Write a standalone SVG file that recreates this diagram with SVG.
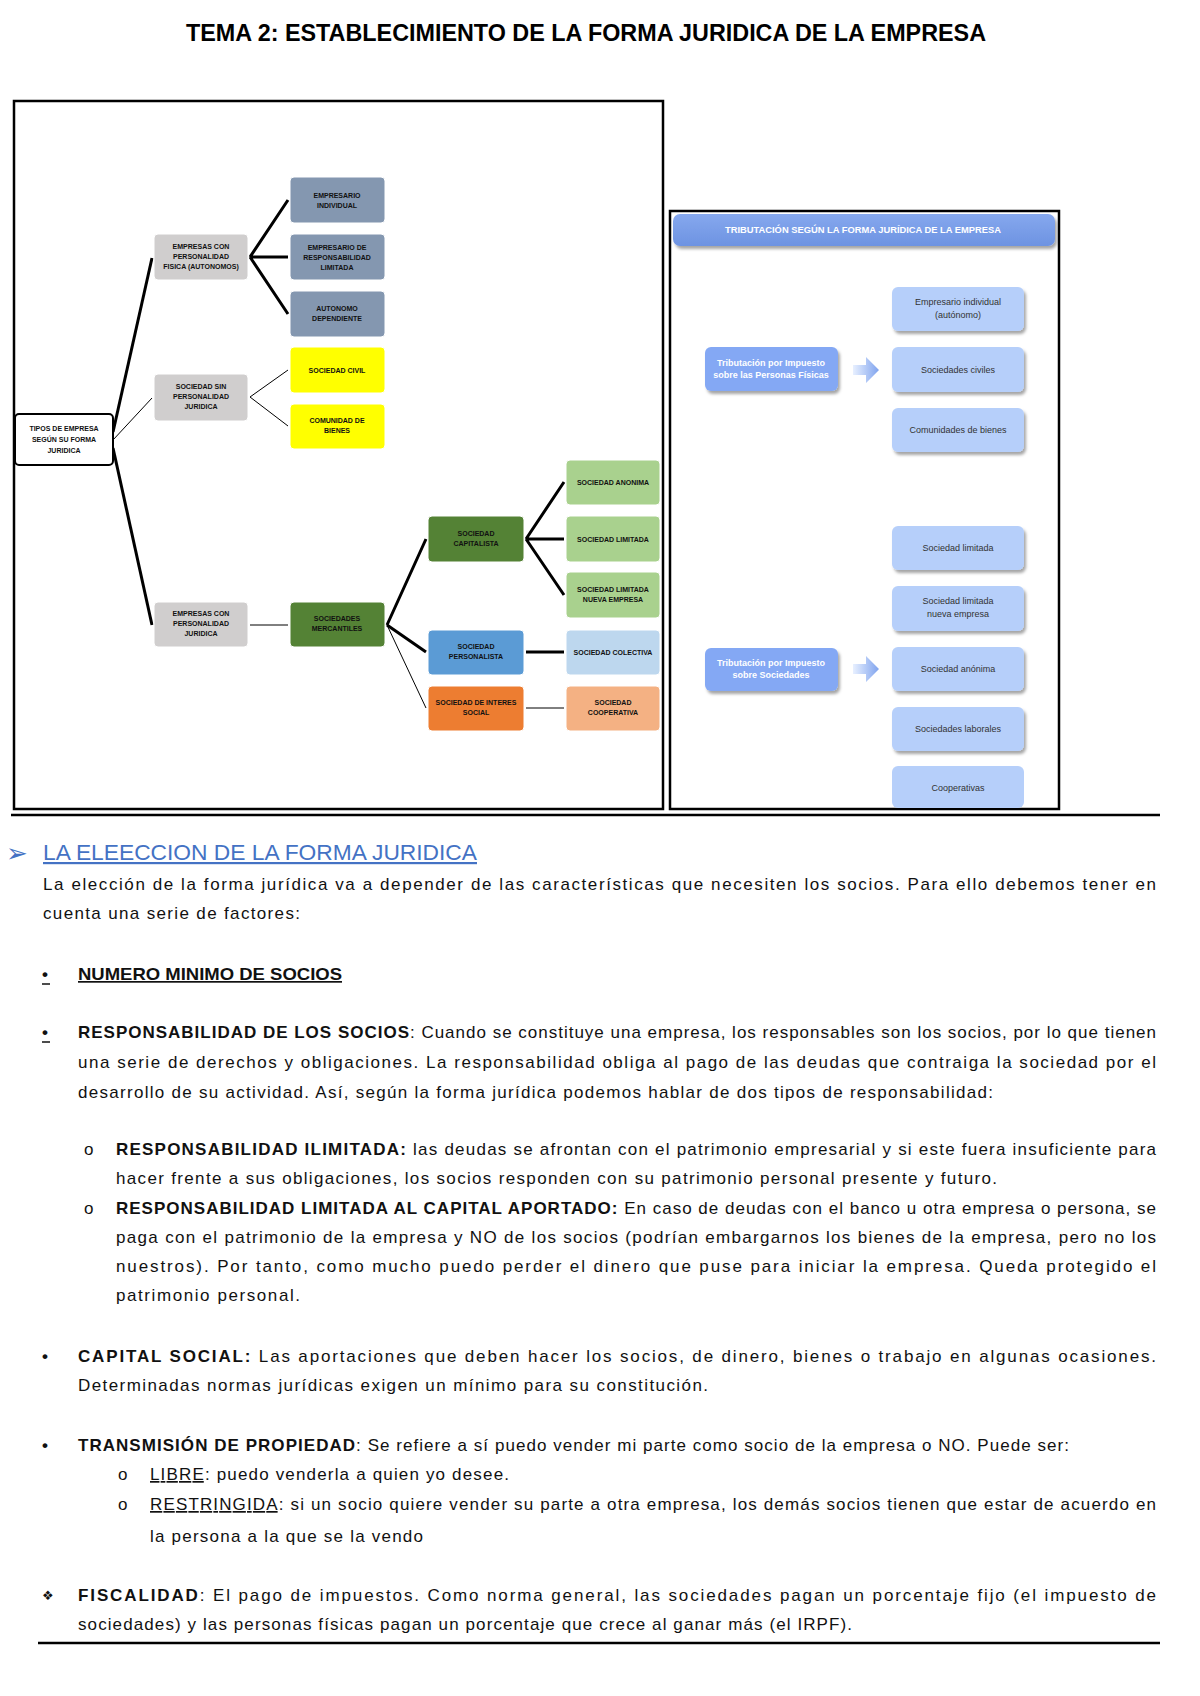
<svg xmlns="http://www.w3.org/2000/svg" width="1200" height="1696" viewBox="0 0 1200 1696">
<style>
.t{font-family:"Liberation Sans",Arial,sans-serif}
.bx{font-family:"Liberation Sans",Arial,sans-serif;font-size:7px;font-weight:bold;fill:#111;text-anchor:middle}
.gray{fill:#d0cece;stroke:#fff;stroke-width:1}
.slate{fill:#8497b0;stroke:#fff;stroke-width:1}
.yel{fill:#ffff00;stroke:#fff;stroke-width:1}
.dg{fill:#548235;stroke:#fff;stroke-width:1}
.lg{fill:#a9d18e;stroke:#fff;stroke-width:1}
.bl{fill:#5b9bd5;stroke:#fff;stroke-width:1}
.lb{fill:#bdd7ee;stroke:#fff;stroke-width:1}
.or{fill:#ed7d31;stroke:#fff;stroke-width:1}
.lo{fill:#f4b183;stroke:#fff;stroke-width:1}
.thick{stroke:#000;stroke-width:3;fill:none}
.thin{stroke:#000;stroke-width:1;fill:none}
.tb{fill:#b6cffa}
.tbt{font-family:"Liberation Sans",Arial,sans-serif;font-size:9px;fill:#333;text-anchor:middle}
.tl{fill:#84a8f4}
.tlt{font-family:"Liberation Sans",Arial,sans-serif;font-size:9px;font-weight:bold;fill:#fff;text-anchor:middle}
.body{font-family:"Liberation Sans",Arial,sans-serif;font-size:17px;fill:#111}
.b{font-weight:bold}
.u{text-decoration:underline}
</style>
<defs>
<filter id="sh" x="-10%" y="-10%" width="130%" height="140%"><feDropShadow dx="2" dy="3" stdDeviation="1.5" flood-color="#000" flood-opacity="0.35"/></filter>
<linearGradient id="ag" x1="0" y1="0" x2="1" y2="0"><stop offset="0" stop-color="#e8f0ff"/><stop offset="1" stop-color="#7fa3ee"/></linearGradient>
<linearGradient id="hg" x1="0" y1="0" x2="0" y2="1"><stop offset="0" stop-color="#86a8ee"/><stop offset="1" stop-color="#6d93e2"/></linearGradient>
</defs>
<rect width="1200" height="1696" fill="#fff"/>

<text class="t" x="586" y="41" font-size="24" font-weight="bold" text-anchor="middle" textLength="800" lengthAdjust="spacingAndGlyphs" fill="#000">TEMA 2: ESTABLECIMIENTO DE LA FORMA JURIDICA DE LA EMPRESA</text>

<!-- frames -->
<rect x="14" y="101" width="649" height="708" fill="none" stroke="#000" stroke-width="2.5"/>
<rect x="670" y="211" width="389" height="598" fill="none" stroke="#000" stroke-width="2.5"/>
<line x1="11" y1="815" x2="1160" y2="815" stroke="#000" stroke-width="2.5"/>

<!-- left diagram connectors -->
<g id="connectors">
<path class="thick" d="M113 432 L152 258"/>
<path class="thin" d="M113 440 L152 398"/>
<path class="thick" d="M113 448 L152 625"/>
<path class="thick" d="M250 257 L288 200 M250 257 L288 257 M250 257 L288 314"/>
<path class="thin" d="M250 397 L288 370 M250 397 L288 426"/>
<path class="thin" d="M250 625 L288 625" stroke-width="1.5"/>
<path class="thick" d="M387 625 L426 539 M387 625 L426 652"/>
<path class="thin" d="M387 625 L426 708"/>
<path class="thick" d="M526 539 L564 482 M526 539 L564 539 M526 539 L564 595"/>
<path class="thick" d="M526 652 L564 652"/>
<path class="thin" d="M526 708 L564 708" stroke-width="1.5"/>
</g>

<!-- left diagram nodes -->
<g id="n-root"><rect x="15" y="414" width="98" height="51" rx="4" fill="#fff" stroke="#000" stroke-width="2"/>
<text class="bx" x="64" y="431">TIPOS DE EMPRESA</text><text class="bx" x="64" y="442">SEGÚN SU FORMA</text><text class="bx" x="64" y="453">JURIDICA</text></g>

<g id="n-fisica"><rect class="gray" x="154" y="234" width="94" height="46" rx="4"/>
<text class="bx" x="201" y="249">EMPRESAS CON</text><text class="bx" x="201" y="259">PERSONALIDAD</text><text class="bx" x="201" y="269">FISICA (AUTONOMOS)</text></g>

<g id="n-sin"><rect class="gray" x="154" y="374" width="94" height="47" rx="4"/>
<text class="bx" x="201" y="389">SOCIEDAD SIN</text><text class="bx" x="201" y="399">PERSONALIDAD</text><text class="bx" x="201" y="409">JURIDICA</text></g>

<g id="n-juridica"><rect class="gray" x="154" y="602" width="94" height="45" rx="4"/>
<text class="bx" x="201" y="616">EMPRESAS CON</text><text class="bx" x="201" y="626">PERSONALIDAD</text><text class="bx" x="201" y="636">JURIDICA</text></g>

<g id="n-individual"><rect class="slate" x="290" y="177" width="95" height="46" rx="4"/>
<text class="bx" x="337" y="198">EMPRESARIO</text><text class="bx" x="337" y="208">INDIVIDUAL</text></g>

<g id="n-resp"><rect class="slate" x="290" y="234" width="95" height="46" rx="4"/>
<text class="bx" x="337" y="250">EMPRESARIO DE</text><text class="bx" x="337" y="260">RESPONSABILIDAD</text><text class="bx" x="337" y="270">LIMITADA</text></g>

<g id="n-autonomo"><rect class="slate" x="290" y="291" width="95" height="46" rx="4"/>
<text class="bx" x="337" y="311">AUTONOMO</text><text class="bx" x="337" y="321">DEPENDIENTE</text></g>

<g id="n-civil"><rect class="yel" x="290" y="347" width="95" height="46" rx="4"/>
<text class="bx" x="337" y="373">SOCIEDAD CIVIL</text></g>

<g id="n-comunidad"><rect class="yel" x="290" y="404" width="95" height="45" rx="4"/>
<text class="bx" x="337" y="423">COMUNIDAD DE</text><text class="bx" x="337" y="433">BIENES</text></g>

<g id="n-mercantiles"><rect class="dg" x="290" y="602" width="95" height="45" rx="4"/>
<text class="bx" x="337" y="621">SOCIEDADES</text><text class="bx" x="337" y="631">MERCANTILES</text></g>

<g id="n-capitalista"><rect class="dg" x="428" y="516" width="96" height="46" rx="4"/>
<text class="bx" x="476" y="536">SOCIEDAD</text><text class="bx" x="476" y="546">CAPITALISTA</text></g>

<g id="n-personalista"><rect class="bl" x="428" y="630" width="96" height="45" rx="4"/>
<text class="bx" x="476" y="649">SOCIEDAD</text><text class="bx" x="476" y="659">PERSONALISTA</text></g>

<g id="n-interes"><rect class="or" x="428" y="686" width="96" height="45" rx="4"/>
<text class="bx" x="476" y="705">SOCIEDAD DE INTERES</text><text class="bx" x="476" y="715">SOCIAL</text></g>

<g id="n-anonima"><rect class="lg" x="566" y="460" width="94" height="45" rx="4"/>
<text class="bx" x="613" y="485">SOCIEDAD ANONIMA</text></g>

<g id="n-limitada"><rect class="lg" x="566" y="516" width="94" height="46" rx="4"/>
<text class="bx" x="613" y="542">SOCIEDAD LIMITADA</text></g>

<g id="n-nueva"><rect class="lg" x="566" y="572" width="94" height="46" rx="4"/>
<text class="bx" x="613" y="592">SOCIEDAD LIMITADA</text><text class="bx" x="613" y="602">NUEVA EMPRESA</text></g>

<g id="n-colectiva"><rect class="lb" x="566" y="630" width="94" height="45" rx="4"/>
<text class="bx" x="613" y="655">SOCIEDAD COLECTIVA</text></g>

<g id="n-cooperativa"><rect class="lo" x="566" y="686" width="94" height="45" rx="4"/>
<text class="bx" x="613" y="705">SOCIEDAD</text><text class="bx" x="613" y="715">COOPERATIVA</text></g>

<!-- right diagram -->
<g id="r-header"><rect x="673" y="214" width="382" height="32" rx="7" fill="url(#hg)" filter="url(#sh)"/>
<text class="t" x="863" y="233" font-size="8.5" font-weight="bold" fill="#fff" text-anchor="middle" textLength="276" lengthAdjust="spacingAndGlyphs">TRIBUTACIÓN SEGÚN LA FORMA JURÍDICA DE LA EMPRESA</text></g>

<g id="r-irpf"><rect class="tl" x="705" y="347" width="133" height="44" rx="6" filter="url(#sh)"/>
<text class="tlt" x="771" y="366">Tributación por Impuesto</text><text class="tlt" x="771" y="378">sobre las Personas Físicas</text></g>
<g id="r-arrow1"><polygon points="853,365 866,365 866,357 879,370 866,383 866,375 853,375" fill="url(#ag)"/></g>

<g id="r-is"><rect class="tl" x="705" y="648" width="133" height="43" rx="6" filter="url(#sh)"/>
<text class="tlt" x="771" y="666">Tributación por Impuesto</text><text class="tlt" x="771" y="678">sobre Sociedades</text></g>
<g id="r-arrow2"><polygon points="853,664 866,664 866,656 879,669 866,682 866,674 853,674" fill="url(#ag)"/></g>

<g id="r-empresario"><rect class="tb" x="892" y="287" width="132" height="44" rx="6" filter="url(#sh)"/>
<text class="tbt" x="958" y="305">Empresario individual</text><text class="tbt" x="958" y="318">(autónomo)</text></g>
<g id="r-civiles"><rect class="tb" x="892" y="347" width="132" height="45" rx="6" filter="url(#sh)"/>
<text class="tbt" x="958" y="373">Sociedades civiles</text></g>
<g id="r-comunidades"><rect class="tb" x="892" y="408" width="132" height="44" rx="6" filter="url(#sh)"/>
<text class="tbt" x="958" y="433">Comunidades de bienes</text></g>
<g id="r-limitada"><rect class="tb" x="892" y="526" width="132" height="44" rx="6" filter="url(#sh)"/>
<text class="tbt" x="958" y="551">Sociedad limitada</text></g>
<g id="r-nueva"><rect class="tb" x="892" y="586" width="132" height="45" rx="6" filter="url(#sh)"/>
<text class="tbt" x="958" y="604">Sociedad limitada</text><text class="tbt" x="958" y="617">nueva empresa</text></g>
<g id="r-anonima"><rect class="tb" x="892" y="647" width="132" height="44" rx="6" filter="url(#sh)"/>
<text class="tbt" x="958" y="672">Sociedad anónima</text></g>
<g id="r-laborales"><rect class="tb" x="892" y="707" width="132" height="44" rx="6" filter="url(#sh)"/>
<text class="tbt" x="958" y="732">Sociedades laborales</text></g>
<g id="r-cooperativas"><rect class="tb" x="892" y="766" width="132" height="42" rx="6"/>
<text class="tbt" x="958" y="791">Cooperativas</text></g>

<!-- text section -->
<text x="6" y="862" font-family="DejaVu Sans,sans-serif" font-size="26" fill="#4472c4">➢</text>
<text class="t u" x="43" y="860" font-size="22" fill="#4472c4" textLength="434" lengthAdjust="spacingAndGlyphs">LA ELEECCION DE LA FORMA JURIDICA</text>

<text class="body" x="43" y="890" textLength="1113" lengthAdjust="spacing">La elección de la forma jurídica va a depender de las características que necesiten los socios. Para ello debemos tener en</text>
<text class="body" x="43" y="919" textLength="257" lengthAdjust="spacing">cuenta una serie de factores:</text>

<text class="body b" x="42" y="980">•</text><line x1="42" y1="984" x2="50" y2="984" stroke="#111" stroke-width="1.5"/>
<text class="body b u" x="78" y="980" textLength="264" lengthAdjust="spacingAndGlyphs">NUMERO MINIMO DE SOCIOS</text>

<text class="body b" x="42" y="1038">•</text><line x1="42" y1="1042" x2="50" y2="1042" stroke="#111" stroke-width="1.5"/>
<text class="body" x="78" y="1038" textLength="1078" lengthAdjust="spacing"><tspan class="b">RESPONSABILIDAD DE LOS SOCIOS</tspan>: Cuando se constituye una empresa, los responsables son los socios, por lo que tienen</text>
<text class="body" x="78" y="1068" textLength="1078" lengthAdjust="spacing">una serie de derechos y obligaciones. La responsabilidad obliga al pago de las deudas que contraiga la sociedad por el</text>
<text class="body" x="78" y="1098" textLength="915" lengthAdjust="spacing">desarrollo de su actividad. Así, según la forma jurídica podemos hablar de dos tipos de responsabilidad:</text>

<text class="body" x="84" y="1155">o</text>
<text class="body" x="116" y="1155" textLength="1040" lengthAdjust="spacing"><tspan class="b">RESPONSABILIDAD ILIMITADA:</tspan> las deudas se afrontan con el patrimonio empresarial y si este fuera insuficiente para</text>
<text class="body" x="116" y="1184" textLength="881" lengthAdjust="spacing">hacer frente a sus obligaciones, los socios responden con su patrimonio personal presente y futuro.</text>
<text class="body" x="84" y="1214">o</text>
<text class="body" x="116" y="1214" textLength="1040" lengthAdjust="spacing"><tspan class="b">RESPONSABILIDAD LIMITADA AL CAPITAL APORTADO:</tspan> En caso de deudas con el banco u otra empresa o persona, se</text>
<text class="body" x="116" y="1243" textLength="1040" lengthAdjust="spacing">paga con el patrimonio de la empresa y NO de los socios (podrían embargarnos los bienes de la empresa, pero no los</text>
<text class="body" x="116" y="1272" textLength="1040" lengthAdjust="spacing">nuestros). Por tanto, como mucho puedo perder el dinero que puse para iniciar la empresa. Queda protegido el</text>
<text class="body" x="116" y="1301" textLength="184" lengthAdjust="spacing">patrimonio personal.</text>

<text class="body b" x="42" y="1362">•</text>
<text class="body" x="78" y="1362" textLength="1078" lengthAdjust="spacing"><tspan class="b">CAPITAL SOCIAL:</tspan> Las aportaciones que deben hacer los socios, de dinero, bienes o trabajo en algunas ocasiones.</text>
<text class="body" x="78" y="1391" textLength="630" lengthAdjust="spacing">Determinadas normas jurídicas exigen un mínimo para su constitución.</text>

<text class="body b" x="42" y="1451">•</text>
<text class="body" x="78" y="1451" textLength="991" lengthAdjust="spacing"><tspan class="b">TRANSMISIÓN DE PROPIEDAD</tspan>: Se refiere a sí puedo vender mi parte como socio de la empresa o NO. Puede ser:</text>
<text class="body" x="118" y="1480">o</text>
<text class="body" x="150" y="1480" textLength="359" lengthAdjust="spacing"><tspan class="u">LIBRE</tspan>: puedo venderla a quien yo desee.</text>
<text class="body" x="118" y="1510">o</text>
<text class="body" x="150" y="1510" textLength="1006" lengthAdjust="spacing"><tspan class="u">RESTRINGIDA</tspan>: si un socio quiere vender su parte a otra empresa, los demás socios tienen que estar de acuerdo en</text>
<text class="body" x="150" y="1542" textLength="273" lengthAdjust="spacing">la persona a la que se la vendo</text>

<text x="42" y="1600" font-family="DejaVu Sans,sans-serif" font-size="13" fill="#111">❖</text>
<text class="body" x="78" y="1601" textLength="1078" lengthAdjust="spacing"><tspan class="b">FISCALIDAD</tspan>: El pago de impuestos. Como norma general, las sociedades pagan un porcentaje fijo (el impuesto de</text>
<text class="body" x="78" y="1630" textLength="774" lengthAdjust="spacing">sociedades) y las personas físicas pagan un porcentaje que crece al ganar más (el IRPF).</text>
<line x1="38" y1="1643" x2="1160" y2="1643" stroke="#000" stroke-width="2.5"/>
</svg>
